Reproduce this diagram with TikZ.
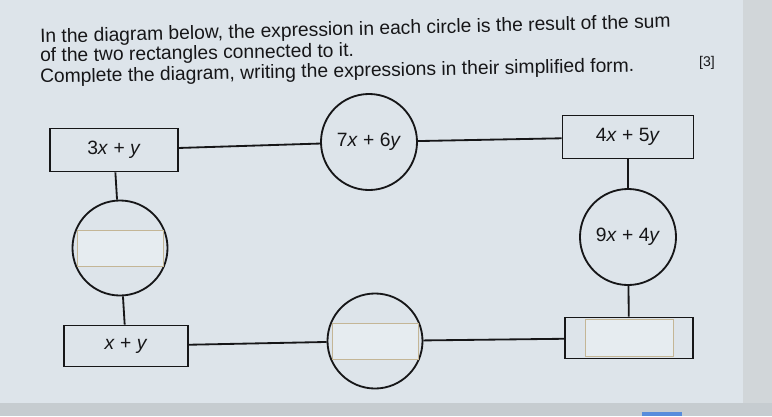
\documentclass[tikz,border=0pt]{standalone}
\usepackage{fontspec}
\setmainfont{Liberation Sans}

\definecolor{paper}{RGB}{221,228,234}
\definecolor{paperedge}{RGB}{209,214,217}
\definecolor{paperfoot}{RGB}{198,204,208}
\definecolor{ink}{RGB}{22,22,24}
\definecolor{answer}{RGB}{230,236,240}
\definecolor{answerline}{RGB}{196,182,150}
\definecolor{tabblue}{RGB}{88,140,220}

\newcommand{\exprfont}{\fontsize{13.7}{16}\selectfont}
\newcommand{\introfont}{\fontsize{13.7}{16}\selectfont}

\begin{document}
\begin{tikzpicture}[x=0.025cm, y=-0.025cm]
% Styles
\tikzset{
    sumbox/.style={draw=ink, text=ink, line width=1.3pt, minimum width=3.2cm, minimum height=1.075cm, inner sep=0pt, font=\exprfont},
    sumcircle/.style={draw=ink, text=ink, circle, line width=1.3pt, minimum size=2.4cm, inner sep=0pt, font=\exprfont},
    blank/.style={draw=answerline, fill=answer, line width=0.6pt, minimum width=2.15cm, minimum height=0.9cm, inner sep=0pt},
    link/.style={draw=ink, line width=1.3pt},
    intro/.style={anchor=base west, text=ink, inner sep=0pt, font=\introfont}
}

% Paper
\useasboundingbox (0, 0) rectangle (772, 416);
\fill[paper] (0, 0) rectangle (772, 416);
\fill[paperedge] (743, 0) rectangle (772, 403);
\fill[paperfoot] (0, 403) rectangle (772, 416);
\fill[tabblue] (642, 412) rectangle (682, 416);

% Question
\node[intro, rotate=1.4] (line1) at (40, 43) {In the diagram below, the expression in each circle is the result of the sum};
\node[intro, rotate=1.0] (line2) at (40, 62) {of the two rectangles connected to it.};
\node[intro, rotate=1.1] (line3) at (40, 83) {Complete the diagram, writing the expressions in their simplified form.};
\node[text=ink, inner sep=0pt, font=\fontsize{10}{12}\selectfont] (marks) at (707, 63) {[3]};

% Nodes
\node[sumbox] (R1) at (114, 150) {3\textit{x} + \textit{y}};
\node[sumcircle] (C1) at (369, 142) {7\textit{x} + 6\textit{y}};
\node[sumbox, minimum width=3.275cm] (R2) at (628, 137) {4\textit{x} + 5\textit{y}};
\node[sumcircle] (C2) at (628, 237) {9\textit{x} + 4\textit{y}};
\node[sumbox, minimum height=1.025cm] (R4) at (629, 338) {};
\node[sumcircle, minimum size=2.375cm] (C4) at (375, 341) {};
\node[sumbox, minimum width=3.1cm, minimum height=1.025cm] (R3) at (126, 346) {\textit{x} + \textit{y}};
\node[sumcircle, minimum size=2.375cm] (C3) at (120, 248) {};

% Connections
\draw[link] (R1) -- (C1);
\draw[link] (C1) -- (R2);
\draw[link] (R2) -- (C2);
\draw[link] (C2) -- (R4);
\draw[link] (R4) -- (C4);
\draw[link] (C4) -- (R3);
\draw[link] (R3) -- (C3);
\draw[link] (C3) -- (R1);

% Answer spaces
\node[blank] (B3) at (C3) {};
\node[blank] (B4) at (C4) {};
\node[blank, minimum width=2.2cm, minimum height=0.925cm] (B2) at (R4) {};
\end{tikzpicture}
\end{document}
